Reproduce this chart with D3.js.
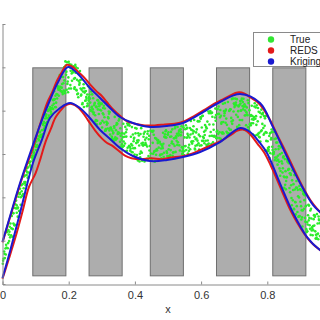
<!DOCTYPE html>
<html><head><meta charset="utf-8">
<script src="https://cdn.jsdelivr.net/npm/d3@7"></script>
<style>html,body{margin:0;padding:0;background:#fff;overflow:hidden}</style>
</head><body>
<svg id="c" width="320" height="320"></svg>
<script>
// ---- data ----
const xTicks = [0, 0.2, 0.4, 0.6, 0.8, 1.0];
const xTickLabels = ["0", "0.2", "0.4", "0.6", "0.8", ""];
const yTicks = [-1.5, -1, -0.5, 0, 0.5, 1, 1.5];
const barStarts = [0.09, 0.26, 0.445, 0.645, 0.815];
const barWidth = 0.1;
const barTop = 1.0;
const barBottom = -1.4;

const krigUpperX = [0.000,0.023,0.053,0.092,0.119,0.1435,0.168,0.198,0.228,0.264,0.295,0.325,0.355,0.394,0.446,0.497,0.545,0.597,0.657,0.718,0.778,0.817,0.860,0.899,0.938,0.959,1.000];
const krigUpperY = [-1.013,-0.715,-0.335,0.104,0.392,0.623,0.831,1.004,0.923,0.762,0.646,0.531,0.427,0.358,0.312,0.323,0.358,0.462,0.600,0.692,0.588,0.312,-0.035,-0.335,-0.588,-0.669,-0.80];
const krigLowerX = [0.000,0.023,0.053,0.092,0.119,0.1435,0.174,0.204,0.234,0.264,0.295,0.325,0.355,0.394,0.446,0.497,0.545,0.597,0.657,0.718,0.748,0.778,0.799,0.838,0.878,0.920,0.959,1.000];
const krigLowerY = [-1.431,-1.119,-0.68,-0.104,0.162,0.415,0.531,0.588,0.531,0.415,0.277,0.173,0.069,-0.023,-0.081,-0.069,-0.035,0.023,0.138,0.300,0.254,0.127,0.012,-0.335,-0.681,-0.958,-1.108,-1.19];

const redsUpperX = [0.000,0.03,0.06,0.09,0.115,0.135,0.15,0.165,0.18,0.195,0.21,0.225,0.245,0.265,0.285,0.30,0.315,0.335,0.355,0.375,0.40,0.43,0.46,0.49,0.52,0.55,0.58,0.61,0.64,0.67,0.69,0.71,0.73,0.75,0.77,0.79,0.81,0.83,0.85,0.87,0.89,0.91,0.93,0.95,0.97,1.0];
const redsUpperY = [-1.02,-0.64,-0.27,0.05,0.36,0.59,0.71,0.85,0.95,1.03,1.01,0.96,0.89,0.80,0.72,0.67,0.60,0.51,0.44,0.38,0.35,0.33,0.33,0.34,0.35,0.38,0.44,0.51,0.58,0.64,0.68,0.71,0.70,0.65,0.60,0.51,0.38,0.22,0.07,-0.09,-0.25,-0.40,-0.53,-0.63,-0.71,-0.80];
const redsLowerX = [0.000,0.02,0.04,0.06,0.08,0.10,0.115,0.13,0.145,0.16,0.175,0.19,0.205,0.22,0.24,0.26,0.28,0.30,0.315,0.33,0.35,0.37,0.39,0.42,0.45,0.48,0.51,0.54,0.57,0.60,0.63,0.66,0.69,0.71,0.73,0.75,0.77,0.79,0.81,0.83,0.85,0.87,0.89,0.91,0.93,0.96,1.0];
const redsLowerY = [-1.44,-1.20,-0.95,-0.67,-0.38,-0.22,-0.05,0.14,0.28,0.42,0.50,0.56,0.58,0.56,0.49,0.38,0.27,0.18,0.13,0.10,0.04,-0.02,-0.05,-0.06,-0.05,-0.06,-0.04,-0.03,0.00,0.05,0.10,0.15,0.22,0.27,0.28,0.22,0.12,0.02,-0.13,-0.30,-0.48,-0.65,-0.79,-0.91,-1.01,-1.11,-1.18];

// envelope of the "True" sample cloud
const trueEnvX  = [0, 0.05, 0.10, 0.14, 0.17, 0.19, 0.21, 0.23, 0.25, 0.28, 0.32, 0.36, 0.40, 0.45, 0.50, 0.55, 0.60, 0.65, 0.70, 0.74, 0.78, 0.82, 0.86, 0.90, 0.94, 0.97];
const trueEnvHi = [-1.06, -0.42, 0.14, 0.55, 0.90, 1.08, 1.10, 1.00, 0.86, 0.68, 0.53, 0.40, 0.33, 0.29, 0.30, 0.35, 0.45, 0.56, 0.65, 0.66, 0.56, 0.27, -0.06, -0.37, -0.63, -0.73];
const trueEnvLo = [-1.38, -0.68, 0.02, 0.40, 0.58, 0.70, 0.72, 0.64, 0.50, 0.36, 0.20, 0.06, -0.08, -0.12, -0.06, -0.01, 0.05, 0.14, 0.26, 0.28, 0.14, -0.15, -0.50, -0.81, -1.01, -1.10];

// "True" samples: x positions and position inside the cloud envelope (percent)
const trueX = [
0.001,0.003,0.005,0.007,0.009,0.011,0.013,0.015,0.016,0.018,0.019,
0.021,0.023,0.024,0.026,0.028,0.030,0.032,0.033,0.035,0.037,0.039,
0.041,0.043,0.044,0.046,0.048,0.050,0.052,0.053,0.055,0.057,0.059,
0.061,0.063,0.064,0.066,0.068,0.070,0.072,0.073,0.075,0.077,0.079,
0.081,0.083,0.084,0.086,0.088,0.090,0.092,0.093,0.095,0.097,0.099,
0.101,0.103,0.104,0.106,0.108,0.110,0.112,0.113,0.115,0.117,0.119,
0.121,0.123,0.124,0.126,0.128,0.130,0.132,0.133,0.135,0.137,0.139,
0.141,0.143,0.144,0.146,0.148,0.150,0.152,0.153,0.155,0.157,0.159,
0.161,0.163,0.164,0.166,0.168,0.170,0.172,0.173,0.175,0.177,0.179,
0.181,0.183,0.184,0.186,0.188,0.190,0.192,0.193,0.195,0.197,0.199,
0.201,0.203,0.204,0.206,0.208,0.210,0.212,0.213,0.215,0.217,0.219,
0.221,0.223,0.224,0.226,0.228,0.230,0.232,0.233,0.235,0.237,0.239,
0.241,0.243,0.244,0.246,0.248,0.250,0.252,0.253,0.255,0.257,0.259,
0.261,0.263,0.264,0.266,0.268,0.270,0.272,0.273,0.275,0.277,0.279,
0.281,0.283,0.284,0.286,0.288,0.290,0.292,0.293,0.295,0.297,0.299,
0.301,0.303,0.304,0.306,0.308,0.310,0.312,0.313,0.315,0.317,0.319,
0.321,0.323,0.324,0.326,0.328,0.330,0.332,0.333,0.335,0.337,0.339,
0.341,0.343,0.344,0.346,0.348,0.350,0.352,0.353,0.355,0.357,0.359,
0.361,0.363,0.364,0.366,0.368,0.370,0.372,0.373,0.375,0.377,0.379,
0.381,0.383,0.384,0.386,0.388,0.390,0.392,0.393,0.395,0.397,0.399,
0.401,0.403,0.404,0.406,0.408,0.410,0.412,0.413,0.415,0.417,0.419,
0.421,0.423,0.424,0.426,0.428,0.430,0.432,0.433,0.435,0.437,0.439,
0.441,0.443,0.444,0.446,0.448,0.450,0.452,0.453,0.455,0.457,0.459,
0.461,0.463,0.464,0.466,0.468,0.470,0.472,0.473,0.475,0.477,0.479,
0.481,0.483,0.484,0.486,0.488,0.490,0.492,0.493,0.495,0.497,0.499,
0.501,0.503,0.504,0.506,0.508,0.510,0.512,0.513,0.515,0.517,0.519,
0.521,0.523,0.524,0.526,0.528,0.530,0.532,0.533,0.535,0.537,0.539,
0.541,0.543,0.544,0.546,0.548,0.550,0.552,0.553,0.555,0.557,0.559,
0.561,0.563,0.564,0.566,0.568,0.570,0.572,0.573,0.575,0.577,0.579,
0.581,0.583,0.584,0.586,0.588,0.590,0.592,0.593,0.595,0.597,0.599,
0.601,0.603,0.604,0.606,0.608,0.610,0.612,0.613,0.615,0.617,0.619,
0.621,0.623,0.624,0.626,0.628,0.630,0.632,0.633,0.635,0.637,0.639,
0.641,0.643,0.644,0.646,0.648,0.650,0.652,0.653,0.655,0.657,0.659,
0.661,0.663,0.664,0.666,0.668,0.670,0.672,0.673,0.675,0.677,0.679,
0.681,0.683,0.684,0.686,0.688,0.690,0.692,0.693,0.695,0.697,0.699,
0.701,0.703,0.704,0.706,0.708,0.710,0.712,0.713,0.715,0.717,0.719,
0.721,0.723,0.724,0.726,0.728,0.730,0.732,0.733,0.735,0.737,0.739,
0.741,0.743,0.744,0.746,0.748,0.750,0.752,0.753,0.755,0.757,0.759,
0.761,0.763,0.764,0.766,0.768,0.770,0.772,0.773,0.775,0.777,0.779,
0.781,0.783,0.784,0.786,0.788,0.790,0.792,0.793,0.795,0.797,0.799,
0.801,0.803,0.804,0.806,0.808,0.810,0.812,0.813,0.815,0.817,0.819,
0.821,0.823,0.824,0.826,0.828,0.830,0.832,0.833,0.835,0.837,0.839,
0.841,0.843,0.844,0.846,0.848,0.850,0.852,0.853,0.855,0.857,0.859,
0.861,0.863,0.864,0.866,0.868,0.870,0.872,0.873,0.875,0.877,0.879,
0.881,0.883,0.884,0.886,0.888,0.890,0.892,0.893,0.895,0.897,0.899,
0.901,0.903,0.904,0.906,0.908,0.910,0.912,0.913,0.915,0.917,0.919,
0.921,0.923,0.924,0.926,0.928,0.930,0.932,0.933,0.935,0.937,0.939,
0.941,0.943,0.944,0.946,0.948,0.950,0.952,0.953,0.955,0.957,0.959,
0.002,0.006,0.010,0.012,0.017,0.020,0.022,0.027,0.031,0.033,
0.036,0.040,0.043,0.047,0.049,0.053,0.055,0.058,0.062,0.065,
0.067,0.069,0.073,0.076,0.078,0.082,0.085,0.087,0.091,0.094,
0.096,0.098,0.102,0.105,0.107,0.109,0.111,0.114,0.116,0.118,
0.120,0.122,0.125,0.127,0.129,0.131,0.134,0.136,0.138,0.140,
0.142,0.145,0.147,0.149,0.151,0.154,0.156,0.158,0.160,0.162,
0.165,0.167,0.169,0.171,0.174,0.176,0.178,0.180,0.182,0.185,
0.187,0.189,0.191,0.194,0.196,0.198,0.200,0.202,0.205,0.207,
0.209,0.211,0.214,0.216,0.218,0.220,0.222,0.225,0.227,0.229,
0.231,0.234,0.236,0.238,0.240,0.242,0.245,0.247,0.249,0.251,
0.254,0.256,0.258,0.260,0.262,0.265,0.267,0.269,0.271,0.274,
0.276,0.278,0.280,0.282,0.285,0.287,0.289,0.291,0.294,0.296,
0.298,0.300,0.302,0.305,0.307,0.309,0.311,0.314,0.316,0.318,
0.320,0.322,0.325,0.327,0.329,0.331,0.334,0.336,0.338,0.340,
0.342,0.345,0.347,0.349,0.351,0.354,0.356,0.358,0.360,0.362,
0.365,0.367,0.369,0.371,0.374,0.376,0.378,0.380,0.382,0.385,
0.387,0.389,0.391,0.394,0.396,0.398,0.400,0.402,0.405,0.407,
0.409,0.411,0.414,0.416,0.418,0.420,0.422,0.425,0.427,0.429,
0.431,0.434,0.436,0.438,0.440,0.442,0.445,0.447,0.449,0.451,
0.454,0.456,0.458,0.460,0.462,0.465,0.467,0.469,0.471,0.474,
0.476,0.478,0.480,0.482,0.485,0.487,0.489,0.491,0.494,0.496,
0.498,0.500,0.502,0.505,0.507,0.509,0.511,0.514,0.516,0.518,
0.520,0.522,0.525,0.527,0.529,0.531,0.534,0.536,0.538,0.540,
0.542,0.545,0.547,0.549,0.551,0.554,0.556,0.558,0.560,0.562,
0.565,0.567,0.569,0.571,0.574,0.576,0.578,0.580,0.582,0.585,
0.587,0.589,0.591,0.594,0.596,0.598,0.600,0.602,0.605,0.607,
0.609,0.611,0.614,0.616,0.618,0.620,0.622,0.625,0.627,0.629,
0.631,0.634,0.636,0.638,0.640,0.642,0.645,0.647,0.649,0.651,
0.654,0.656,0.658,0.660,0.662,0.665,0.667,0.669,0.671,0.674,
0.676,0.678,0.680,0.682,0.685,0.687,0.689,0.691,0.694,0.696,
0.698,0.700,0.702,0.705,0.707,0.709,0.711,0.714,0.716,0.718,
0.720,0.722,0.725,0.727,0.729,0.731,0.734,0.736,0.738,0.740,
0.742,0.745,0.747,0.749,0.751,0.754,0.756,0.758,0.760,0.762,
0.765,0.767,0.769,0.771,0.774,0.776,0.778,0.780,0.782,0.785,
0.787,0.789,0.791,0.794,0.796,0.798,0.800,0.802,0.805,0.807,
0.809,0.811,0.814,0.816,0.818,0.820,0.822,0.825,0.827,0.829,
0.831,0.834,0.836,0.838,0.840,0.842,0.845,0.847,0.849,0.851,
0.854,0.856,0.858,0.860,0.862,0.865,0.867,0.869,0.871,0.874,
0.876,0.878,0.880,0.882,0.885,0.887,0.889,0.891,0.894,0.896,
0.898,0.900,0.902,0.905,0.907,0.909,0.911,0.914,0.916,0.918,
0.920,0.922,0.925,0.927,0.929,0.931,0.934,0.936,0.938,0.940,
0.942,0.945,0.947,0.949,0.951,0.954,0.956,0.958
];
const trueBandPct = [
31,41,59,26,53,58,97,93,23,84,62,64,33,83,27,95,2,88,41,97,
16,93,99,37,51,5,82,9,74,94,45,92,30,78,16,40,62,86,20,89,
98,62,80,34,82,53,42,11,70,67,98,21,48,8,65,13,28,23,6,64,
70,93,84,46,9,55,5,82,23,17,25,35,94,8,12,84,81,11,74,50,
28,41,2,70,19,38,52,11,5,55,96,44,62,29,48,95,49,30,38,19,
64,42,88,10,97,56,65,93,34,46,12,84,75,64,82,33,78,67,83,16,
52,71,20,19,9,14,56,48,56,69,23,46,3,48,61,4,54,32,66,48,
21,33,93,60,72,60,24,91,41,27,37,24,58,70,6,60,63,15,58,81,
74,88,15,20,92,9,62,82,92,54,9,17,15,36,43,67,89,25,90,36,
0,11,33,5,30,54,88,20,46,65,21,38,41,46,95,19,41,51,16,9,
43,30,57,27,3,65,75,95,91,95,30,92,18,61,17,38,19,32,61,17,
93,10,51,18,54,80,74,46,23,79,96,27,49,56,73,51,88,57,52,72,
48,91,22,79,38,18,30,11,94,91,29,83,36,73,36,24,40,65,66,43,
8,60,21,39,49,46,39,52,24,73,71,90,70,21,79,86,9,43,70,27,
70,53,92,17,17,62,93,17,67,52,38,46,74,81,84,67,66,94,5,13,
20,0,56,81,27,14,52,63,56,8,27,78,57,71,34,27,57,78,96,9,
17,36,37,17,87,21,46,84,40,90,12,24,95,34,30,14,65,49,58,53,
71,5,7,92,27,96,89,25,89,23,54,20,19,95,61,12,12,90,21,96,
8,64,3,44,18,15,98,13,62,97,74,77,13,9,96,5,18,70,72,11,
34,99,99,99,83,72,97,80,49,95,10,59,73,17,32,81,60,96,31,85,
95,2,44,59,45,53,46,90,83,2,64,25,22,30,82,53,34,46,85,3,
52,61,93,11,88,17,10,10,0,31,37,83,87,52,88,65,87,53,32,8,
38,14,20,61,71,77,66,91,47,30,35,98,25,34,90,42,87,55,46,87,
31,15,95,62,86,38,82,35,37,87,59,37,51,95,77,81,85,77,80,53,
21,71,22,68,6,61,30,1,92,78,76,61,11,95,90,92,16,42,1,98,
93,80,95,25,72,1,6,54,85,86,32,78,86,59,36,15,33,81,82,79,
14,15,92,65,35,89,79,32,38,46,26,43,38,32,79,50,28,84,19,71,
69,39,93,75,10,58,20,97,49,44,59,23,7,81,64,6,28,62,8,99,
86,28,3,48,25,34,21,17,6,79,82,14,80,86,51,32,82,30,66,47,
9,38,44,60,95,50,58,22,31,72,53,59,40,81,28,48,11,17,45,2,
84,10,27,1,93,85,21,10,55,59,64,46,22,94,89,54,93,3,81,96,
44,28,81,9,75,66,59,33,44,61,28,47,56,48,23,37,86,78,31,65,
27,12,1,90,91,45,64,85,66,92,34,60,34,86,10,45,43,26,64,82,
13,39,36,7,26,2,49,14,12,73,72,45,87,0,66,6,31,55,88,17,
48,81,52,9,20,96,28,29,25,40,91,71,53,64,36,78,92,59,3,60,
1,13,30,53,5,48,82,4,66,52,13,84,14,69,51,94,15,11,60,94,
33,5,72,70,36,57,59,59,19,53,9,21,86,11,73,81,93,26,11,79,
31,5,11,85,48,7,44,62,37,99,62,74,95,67,35,18,85,75,27,24,
89,12,27,93,81,83,1,19,49,12,98,33,67,33,62,44,6,56,64,30,
86,2,13,94,94,63,95,22,47,37,19,7,2,17,98,60,94,37,2,77,
5,39,21,71,76,29,31,76,75,23,84,67,48,18,46,76,69,40,51,32,
0,5,68,12,71,45,26,35,60,82,77,85,77,13,42,75,77,89,60,91,
73,63,71,78,72,14,68,44,9,1,22,49,53,43,1,46,54,95,85,37,
10,50,79,22,79,68,92,58,92,35,42,1,99,56,11,21,29,2,19,60,
86,40,34,41,81,59,81,36,29,77,47,71,30,99,60,51,87,7,21,13,
49,99,99,98,37,29,78,4,99,51,5,97,31,73,28,16,9,63,18,59,
50,24,45,94,55,34,69,8,30,26,42,52,23,8,25,33,44,68,50,35,
26,19,31,18,81,71,1,0,3,13,78,38,75,28,86,58,75,33,20,83
];

const legendLabels = ["True", "REDS", "Kriging"];
const legendColors = ["#33e633", "#e31a1a", "#1a1ad0"];

// ---- drawing ----
const svg = d3.select("#c");
const x = d3.scaleLinear().domain([0, 1]).range([2.5, 333.5]);
const y = d3.scaleLinear().domain([-1.5, 1.5]).range([284, 24]);
const FONT = "Liberation Sans, Arial, sans-serif";

// bars
svg.append("g").selectAll("rect").data(barStarts).join("rect")
  .attr("x", d => x(d) + 0.5)
  .attr("y", y(barTop) + 0.5)
  .attr("width", d => x(d + barWidth) - x(d))
  .attr("height", y(barBottom) - y(barTop))
  .attr("fill", "#adadad")
  .attr("stroke", "#6f6f6f")
  .attr("stroke-width", 1);

function interp(xs, ys, v) {
  const i = Math.max(1, Math.min(xs.length - 1, d3.bisectLeft(xs, v)));
  const t = (v - xs[i - 1]) / (xs[i] - xs[i - 1]);
  return ys[i - 1] + t * (ys[i] - ys[i - 1]);
}
const samples = d3.zip(trueX, trueBandPct);
svg.append("g").selectAll("circle").data(samples).join("circle")
  .attr("cx", d => x(d[0]))
  .attr("cy", d => {
    const lo = interp(trueEnvX, trueEnvLo, d[0]);
    const hi = interp(trueEnvX, trueEnvHi, d[0]);
    return y(lo + d[1] / 100 * (hi - lo));
  })
  .attr("r", 1.3)
  .attr("fill", "#2bec2b");

const line = d3.line().x(d => x(d[0])).y(d => y(d[1])).curve(d3.curveCatmullRom);
function drawLine(xs, ys, color) {
  svg.append("path").datum(xs.map((v, i) => [v, ys[i]]))
    .attr("d", line).attr("fill", "none").attr("stroke", color)
    .attr("stroke-width", 2).attr("stroke-linejoin", "round");
}
drawLine(redsUpperX, redsUpperY, legendColors[1]);
drawLine(redsLowerX, redsLowerY, legendColors[1]);
drawLine(krigUpperX, krigUpperY, legendColors[2]);
drawLine(krigLowerX, krigLowerY, legendColors[2]);

// axes
const gx = svg.append("g").attr("transform", "translate(0,284.5)")
  .call(d3.axisBottom(x).tickValues(xTicks).tickSizeInner(-3).tickSizeOuter(0).tickPadding(7)
    .tickFormat((d, i) => xTickLabels[i]));
const gy = svg.append("g").attr("transform", "translate(2.5,0)")
  .call(d3.axisLeft(y).tickValues(yTicks).tickSizeInner(-3).tickSizeOuter(0).tickFormat(""));
[gx, gy].forEach(g => {
  g.select(".domain").attr("stroke", "#8a8a8a");
  g.selectAll(".tick line").attr("stroke", "#8a8a8a");
  g.selectAll(".tick text").attr("fill", "#333").attr("font-size", 11).attr("font-family", FONT);
});
svg.append("text").attr("x", x(0.5)).attr("y", 313).attr("text-anchor", "middle")
  .attr("font-size", 11).attr("font-family", FONT).attr("fill", "#333").text("x");

// legend
const lg = svg.append("g");
lg.append("rect").attr("x", 253.5).attr("y", 32.5).attr("width", 100).attr("height", 34)
  .attr("fill", "#fff").attr("stroke", "#8a8a8a").attr("stroke-width", 1);
legendLabels.forEach((lab, i) => {
  lg.append("circle").attr("cx", 271).attr("cy", 39.5 + i * 11).attr("r", 3.2).attr("fill", legendColors[i]);
  lg.append("text").attr("x", 290).attr("y", 39.5 + i * 11).attr("dy", "0.35em")
    .attr("font-size", 10).attr("font-family", FONT).attr("fill", "#222").text(lab);
});
</script>
</body></html>
